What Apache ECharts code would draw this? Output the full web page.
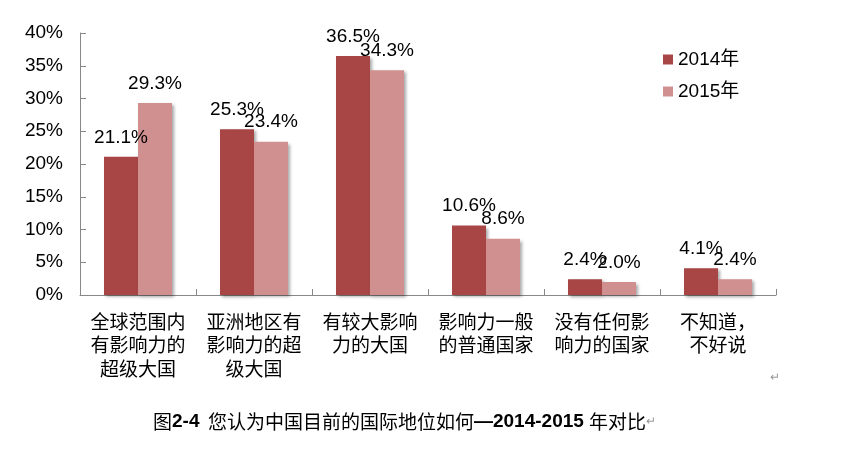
<!DOCTYPE html>
<html>
<head>
<meta charset="utf-8">
<script src="https://cdn.jsdelivr.net/npm/echarts@6/dist/echarts.min.js"></script>
<style>
  html, body { margin: 0; padding: 0; background: #fff; }
  #main { width: 842px; height: 453px; }
</style>
</head>
<body>
<div id="main"></div>
<script>
var categories = [
    '全球范围内\n有影响力的\n超级大国',
    '亚洲地区有\n影响力的超\n级大国',
    '有较大影响\n力的大国',
    '影响力一般\n的普通国家',
    '没有任何影\n响力的国家',
    '不知道，\n不好说'
];
var data2014 = [21.1, 25.3, 36.5, 10.6, 2.4, 4.1];
var data2015 = [29.3, 23.4, 34.3, 8.6, 2.0, 2.4];
var seriesNames = ['2014年', '2015年'];

var chart = echarts.init(document.getElementById('main'));
var font = '"Liberation Sans", Arial, "Noto Sans CJK SC", sans-serif';

var barShadow = {
    shadowColor: 'rgba(0,0,0,0.35)',
    shadowBlur: 3,
    shadowOffsetX: 2,
    shadowOffsetY: 2
};

var option = {
    backgroundColor: '#fff',
    animation: false,
    textStyle: { fontFamily: font },
    legend: {
        orient: 'vertical',
        left: 658,
        top: 45,
        itemWidth: 10,
        itemHeight: 10,
        itemGap: 13,
        icon: 'rect',
        textStyle: { fontSize: 19, color: '#000', fontFamily: font },
        data: seriesNames
    },
    grid: { left: 80, right: 66, top: 33, bottom: 158 },
    xAxis: {
        type: 'category',
        data: categories,
        axisLine: { lineStyle: { color: '#888', width: 1 } },
        axisTick: { show: true, inside: true, length: 6, lineStyle: { color: '#888' } },
        axisLabel: {
            interval: 0,
            margin: 15,
            fontSize: 19,
            lineHeight: 23.5,
            color: '#000',
            fontFamily: '"Noto Sans CJK SC", sans-serif'
        }
    },
    yAxis: {
        type: 'value',
        min: 0,
        max: 40,
        interval: 5,
        axisLine: { show: true, lineStyle: { color: '#888', width: 1 } },
        axisTick: { show: true, inside: true, length: 6, lineStyle: { color: '#888' } },
        splitLine: { show: false },
        axisLabel: {
            formatter: '{value}%',
            fontSize: 19,
            margin: 17,
            color: '#000',
            fontFamily: font
        }
    },
    series: [
        {
            name: seriesNames[0],
            type: 'bar',
            data: data2014,
            barWidth: 34,
            barGap: '0%',
            itemStyle: Object.assign({ color: '#A84646' }, barShadow),
            label: {
                show: true,
                position: 'top',
                distance: 10,
                fontSize: 19,
                color: '#000',
                fontFamily: font,
                formatter: function (p) { return p.value.toFixed(1) + '%'; }
            }
        },
        {
            name: seriesNames[1],
            type: 'bar',
            data: data2015,
            barWidth: 34,
            barGap: '0%',
            itemStyle: Object.assign({ color: '#D09090' }, barShadow),
            label: {
                show: true,
                position: 'top',
                distance: 10,
                fontSize: 19,
                color: '#000',
                fontFamily: font,
                formatter: function (p) { return p.value.toFixed(1) + '%'; }
            }
        }
    ],
    graphic: [
        {
            type: 'text',
            left: 770,
            top: 372,
            style: { text: '↵', fontSize: 12, fill: '#999' }
        },
        {
            type: 'text',
            left: 153,
            top: 412,
            style: {
                rich: {
                    c: { fontSize: 19, fontFamily: '"Noto Sans CJK SC", sans-serif', fill: '#000' },
                    b: { fontSize: 19, fontWeight: 'bold', fontFamily: font, fill: '#000' },
                    m: { fontSize: 12, fill: '#999' }
                },
                text: '{c|图}{b|2-4}{c|  您认为中国目前的国际地位如何}{b|—2014-2015 }{c|年对比}{m|↵}'
            }
        }
    ]
};
chart.setOption(option);
</script>
</body>
</html>
